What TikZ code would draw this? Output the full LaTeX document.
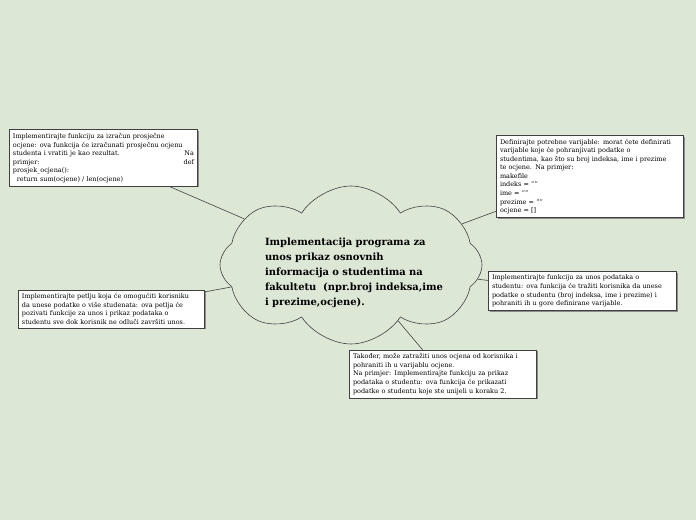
\documentclass[tikz,border=0pt]{standalone}
\usepackage{fontspec}
\setmainfont{DejaVu Serif}
\usetikzlibrary{shapes.symbols,shadows}
\definecolor{bggreen}{RGB}{220,231,214}
\tikzset{
  infobox/.style={draw=black!75, fill=white, line width=0.6pt, inner sep=3.5bp,
    text width=#1, align=left, font=\fontsize{6.5}{8.6}\selectfont,
    drop shadow={shadow xshift=1.2bp, shadow yshift=-1.2bp, fill=black!45, opacity=1}},
  infobox/.default=181bp,
  link/.style={draw=black!75, line width=0.6pt}
}
\begin{document}
\begin{tikzpicture}[x=1bp,y=-1bp]

        %Background
        \fill [bggreen] (0,0) rectangle (696,520);
        \useasboundingbox (0,0) rectangle (696,520);

        %Cloud
        \node [cloud, draw=black!75, line width=0.6pt, cloud puffs=8, cloud puff arc=115,
               aspect=1.75, minimum width=262bp, minimum height=158bp, inner sep=0pt]
          (main) at (351,265) {};
        \node [text width=195bp, align=left, inner sep=0pt,
               font=\fontsize{10}{15}\selectfont\bfseries]
          (maintext) at (362.5,273)
          {Implementacija programa za\\
           unos prikaz osnovnih\\
           informacija o studentima na\\
           fakultetu \ (npr.broj indeksa,ime\\
           i prezime,ocjene).};

        %Boxes
        \node [infobox] (prosjek) at (103.5,158)
          {Implementirajte funkciju za izračun prosječne\\
           ocjene: ova funkcija će izračunati prosječnu ocjenu\\
           studenta i vratiti je kao rezultat.\hfill Na\\
           primjer:\hfill def\\
           prosjek\_ocjena():\\
           \hspace*{0.6em}return sum(ocjene) / len(ocjene)};
        \node [infobox=180bp] (varijable) at (590,176.5)
          {Definirajte potrebne varijable: morat ćete definirati\\
           varijable koje će pohranjivati podatke o\\
           studentima, kao što su broj indeksa, ime i prezime\\
           te ocjene. Na primjer:\\
           makefile\\
           indeks = ""\\
           ime = ""\\
           prezime = ""\\
           ocjene = []};
        \node [infobox] (unos) at (582.5,291)
          {Implementirajte funkciju za unos podataka o\\
           studentu: ova funkcija će tražiti korisnika da unese\\
           podatke o studentu (broj indeksa, ime i prezime) i\\
           pohraniti ih u gore definirane varijable.};
        \node [infobox=179bp] (petlja) at (111.5,309)
          {Implementirajte petlju koja će omogućiti korisniku\\
           da unese podatke o više studenata: ova petlja će\\
           pozivati funkcije za unos i prikaz podataka o\\
           studentu sve dok korisnik ne odluči završiti unos.};
        \node [infobox=180bp] (prikaz) at (443,374)
          {Također, može zatražiti unos ocjena od korisnika i\\
           pohraniti ih u varijablu ocjene.\\
           Na primjer: Implementirajte funkciju za prikaz\\
           podataka o studentu: ova funkcija će prikazati\\
           podatke o studentu koje ste unijeli u koraku 2.};

        %Connectors
        \draw [link] (prosjek) -- (main);
        \draw [link] (varijable) -- (main);
        \draw [link] (unos) -- (main);
        \draw [link] (petlja) -- (main);
        \draw [link] (prikaz) -- (main);

      \end{tikzpicture}
\end{document}
